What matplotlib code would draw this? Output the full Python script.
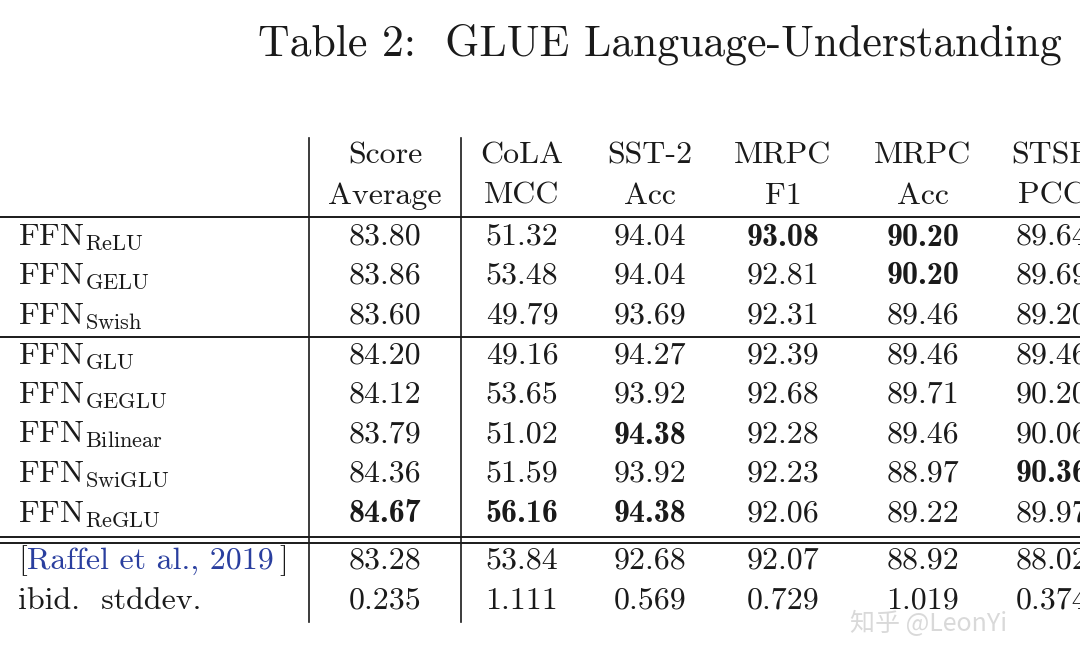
import matplotlib
matplotlib.use("Agg")
import matplotlib.pyplot as plt

plt.rcParams["mathtext.fontset"] = "cm"

headers_top = ["Score", "CoLA", "SST-2", "MRPC", "MRPC", "STSB"]
headers_bot = ["Average", "MCC", "Acc", "F1", "Acc", "PCC"]
variants = ["ReLU", "GELU", "Swish", "GLU", "GEGLU", "Bilinear", "SwiGLU", "ReGLU"]
values = [
    ["83.80", "51.32", "94.04", "93.08", "90.20", "89.64"],
    ["83.86", "53.48", "94.04", "92.81", "90.20", "89.69"],
    ["83.60", "49.79", "93.69", "92.31", "89.46", "89.20"],
    ["84.20", "49.16", "94.27", "92.39", "89.46", "89.46"],
    ["84.12", "53.65", "93.92", "92.68", "89.71", "90.20"],
    ["83.79", "51.02", "94.38", "92.28", "89.46", "90.06"],
    ["84.36", "51.59", "93.92", "92.23", "88.97", "90.36"],
    ["84.67", "56.16", "94.38", "92.06", "89.22", "89.97"],
]
bold = [(0, 3), (0, 4), (1, 4), (5, 2), (6, 5), (7, 0), (7, 1), (7, 2)]
raffel = ["83.28", "53.84", "92.68", "92.07", "88.92", "88.02"]
stddev = ["0.235", "1.111", "0.569", "0.729", "1.019", "0.374"]

col_x = [385, 522, 650, 783, 923, 1052]
row_y = [237, 276, 316, 356, 395, 435, 474, 514]
fs = 23
ink = "#1a1a1a"

fig = plt.figure(figsize=(10.8, 6.64), dpi=100)
ax = fig.add_axes([0, 0, 1, 1])
ax.set_xlim(0, 1080)
ax.set_ylim(664, 0)
ax.axis("off")

ax.text(258, 44, "Table 2:  GLUE Language-Understanding", family="cmr10",
        fontsize=31.5, va="center", ha="left", color=ink)

for x, t, b in zip(col_x, headers_top, headers_bot):
    ax.text(x, 156, t, family="cmr10", fontsize=fs, ha="center", va="center", color=ink)
    ax.text(x, 196, b, family="cmr10", fontsize=fs, ha="center", va="center", color=ink)

for i, (name, row) in enumerate(zip(variants, values)):
    y = row_y[i]
    ax.text(18, y, r"FFN$_{\mathrm{%s}}$" % name, family="cmr10", fontsize=fs,
            ha="left", va="center", color=ink)
    for j, v in enumerate(row):
        fam = "cmb10" if (i, j) in bold else "cmr10"
        ax.text(col_x[j], y, v, family=fam, fontsize=fs, ha="center", va="center", color=ink)

ax.text(18, 561, "[", family="cmr10", fontsize=fs, ha="left", va="center", color=ink)
ax.text(27, 561, "Raffel et al., 2019", family="cmr10", fontsize=fs, ha="left",
        va="center", color="#2a3f9f")
ax.text(288, 561, "]", family="cmr10", fontsize=fs, ha="right", va="center", color=ink)
ax.text(18, 601, "ibid.  stddev.", family="cmr10", fontsize=fs, ha="left", va="center", color=ink)
for j in range(6):
    ax.text(col_x[j], 561, raffel[j], family="cmr10", fontsize=fs, ha="center", va="center", color=ink)
    ax.text(col_x[j], 601, stddev[j], family="cmr10", fontsize=fs, ha="center", va="center", color=ink)

for y in [217, 337]:
    ax.plot([0, 1080], [y, y], color=ink, lw=1.4)
for y in [537, 543]:
    ax.plot([0, 1080], [y, y], color=ink, lw=1.4)
for x in [309, 461]:
    ax.plot([x, x], [138, 622], color=ink, lw=1.2)

ax.text(850, 624, "知乎 @LeonYi", family=["Noto Sans CJK SC", "DejaVu Sans"],
        fontsize=18, color="#d0d0d0", alpha=0.8, ha="left", va="center")

fig.savefig("out.png", dpi=100)
